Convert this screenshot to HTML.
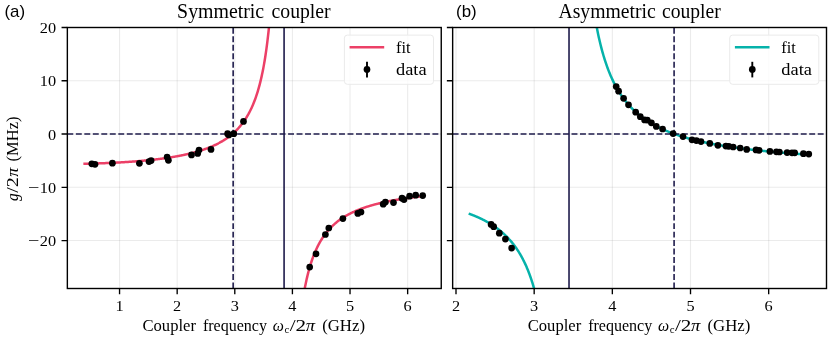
<!DOCTYPE html>
<html><head><meta charset="utf-8"><title>Coupler plots</title>
<style>html,body{margin:0;padding:0;background:#fff;}svg{display:block;}</style></head>
<body>
<svg width="831" height="341" viewBox="0 0 831 341">
<rect width="831" height="341" fill="#fff"/>
<clipPath id="clip0"><rect x="67.35" y="27.5" width="373.9" height="261"/></clipPath>
<path d="M119.55 27.5V288.5M177.17 27.5V288.5M234.79 27.5V288.5M292.41 27.5V288.5M350.03 27.5V288.5M407.65 27.5V288.5" stroke="#808080" stroke-opacity="0.16" stroke-width="1.1" fill="none"/>
<path d="M67.35 27.5H441.25M67.35 80.77H441.25M67.35 134.03H441.25M67.35 187.3H441.25M67.35 240.56H441.25" stroke="#808080" stroke-opacity="0.16" stroke-width="1.1" fill="none"/>
<g clip-path="url(#clip0)">
<path d="M83.36 163.76 L83.86 163.75 L84.35 163.74 L84.85 163.73 L85.34 163.72 L85.84 163.71 L86.33 163.7 L86.83 163.69 L87.32 163.68 L87.82 163.67 L88.32 163.66 L88.81 163.65 L89.31 163.64 L89.8 163.62 L90.3 163.61 L90.79 163.6 L91.29 163.59 L91.78 163.57 L92.28 163.56 L92.77 163.55 L93.27 163.53 L93.76 163.52 L94.26 163.51 L94.75 163.49 L95.25 163.48 L95.74 163.46 L96.24 163.45 L96.73 163.43 L97.23 163.42 L97.72 163.4 L98.22 163.38 L98.71 163.37 L99.21 163.35 L99.7 163.33 L100.2 163.32 L100.69 163.3 L101.19 163.28 L101.68 163.27 L102.18 163.25 L102.67 163.23 L103.17 163.21 L103.66 163.19 L104.16 163.17 L104.65 163.15 L105.15 163.13 L105.64 163.11 L106.14 163.09 L106.63 163.07 L107.13 163.05 L107.62 163.03 L108.12 163.01 L108.61 162.99 L109.11 162.97 L109.6 162.95 L110.1 162.92 L110.59 162.9 L111.09 162.88 L111.58 162.86 L112.08 162.83 L112.57 162.81 L113.07 162.78 L113.56 162.76 L114.06 162.74 L114.55 162.71 L115.05 162.69 L115.54 162.66 L116.04 162.64 L116.53 162.61 L117.03 162.58 L117.52 162.56 L118.02 162.53 L118.51 162.5 L119.01 162.48 L119.5 162.45 L120 162.42 L120.49 162.39 L120.99 162.36 L121.48 162.33 L121.98 162.3 L122.47 162.27 L122.97 162.24 L123.46 162.21 L123.96 162.18 L124.45 162.15 L124.95 162.12 L125.44 162.09 L125.94 162.06 L126.43 162.03 L126.93 161.99 L127.42 161.96 L127.92 161.93 L128.41 161.89 L128.91 161.86 L129.4 161.83 L129.9 161.79 L130.39 161.76 L130.89 161.72 L131.38 161.68 L131.88 161.65 L132.37 161.61 L132.87 161.58 L133.36 161.54 L133.86 161.5 L134.35 161.46 L134.85 161.42 L135.34 161.39 L135.84 161.35 L136.33 161.31 L136.83 161.27 L137.32 161.23 L137.82 161.19 L138.31 161.14 L138.81 161.1 L139.3 161.06 L139.8 161.02 L140.29 160.98 L140.79 160.93 L141.28 160.89 L141.78 160.84 L142.27 160.8 L142.77 160.75 L143.26 160.71 L143.76 160.66 L144.25 160.62 L144.75 160.57 L145.24 160.52 L145.74 160.48 L146.23 160.43 L146.73 160.38 L147.22 160.33 L147.72 160.28 L148.22 160.23 L148.71 160.18 L149.21 160.13 L149.7 160.08 L150.2 160.02 L150.69 159.97 L151.19 159.92 L151.68 159.86 L152.18 159.81 L152.67 159.76 L153.17 159.7 L153.66 159.64 L154.16 159.59 L154.65 159.53 L155.15 159.47 L155.64 159.41 L156.14 159.36 L156.63 159.3 L157.13 159.24 L157.62 159.18 L158.12 159.12 L158.61 159.05 L159.11 158.99 L159.6 158.93 L160.1 158.87 L160.59 158.8 L161.09 158.74 L161.58 158.67 L162.08 158.61 L162.57 158.54 L163.07 158.47 L163.56 158.4 L164.06 158.33 L164.55 158.26 L165.05 158.19 L165.54 158.12 L166.04 158.05 L166.53 157.98 L167.03 157.91 L167.52 157.83 L168.02 157.76 L168.51 157.68 L169.01 157.61 L169.5 157.53 L170 157.45 L170.49 157.37 L170.99 157.29 L171.48 157.21 L171.98 157.13 L172.47 157.05 L172.97 156.97 L173.46 156.89 L173.96 156.8 L174.45 156.72 L174.95 156.63 L175.44 156.54 L175.94 156.46 L176.43 156.37 L176.93 156.28 L177.42 156.19 L177.92 156.09 L178.41 156 L178.91 155.91 L179.4 155.81 L179.9 155.72 L180.39 155.62 L180.89 155.52 L181.38 155.42 L181.88 155.32 L182.37 155.22 L182.87 155.12 L183.36 155.02 L183.86 154.91 L184.35 154.81 L184.85 154.7 L185.34 154.59 L185.84 154.48 L186.33 154.37 L186.83 154.26 L187.32 154.15 L187.82 154.03 L188.31 153.92 L188.81 153.8 L189.3 153.68 L189.8 153.56 L190.29 153.44 L190.79 153.32 L191.28 153.2 L191.78 153.07 L192.27 152.95 L192.77 152.82 L193.26 152.69 L193.76 152.56 L194.25 152.42 L194.75 152.29 L195.24 152.15 L195.74 152.02 L196.23 151.88 L196.73 151.73 L197.22 151.59 L197.72 151.45 L198.21 151.3 L198.71 151.15 L199.2 151 L199.7 150.85 L200.19 150.7 L200.69 150.54 L201.18 150.38 L201.68 150.22 L202.17 150.06 L202.67 149.9 L203.16 149.73 L203.66 149.56 L204.15 149.39 L204.65 149.22 L205.14 149.05 L205.64 148.87 L206.13 148.69 L206.63 148.51 L207.12 148.32 L207.62 148.14 L208.11 147.95 L208.61 147.75 L209.11 147.56 L209.6 147.36 L210.1 147.16 L210.59 146.96 L211.09 146.75 L211.58 146.54 L212.08 146.33 L212.57 146.11 L213.07 145.9 L213.56 145.67 L214.06 145.45 L214.55 145.22 L215.05 144.99 L215.54 144.76 L216.04 144.52 L216.53 144.28 L217.03 144.03 L217.52 143.78 L218.02 143.53 L218.51 143.27 L219.01 143.01 L219.5 142.74 L220 142.47 L220.49 142.2 L220.99 141.92 L221.48 141.64 L221.98 141.35 L222.47 141.06 L222.97 140.76 L223.46 140.46 L223.96 140.15 L224.45 139.84 L224.95 139.52 L225.44 139.2 L225.94 138.87 L226.43 138.53 L226.93 138.19 L227.42 137.84 L227.92 137.49 L228.41 137.13 L228.91 136.77 L229.4 136.39 L229.9 136.01 L230.39 135.63 L230.89 135.23 L231.38 134.83 L231.88 134.42 L232.37 134 L232.87 133.58 L233.36 133.14 L233.86 132.7 L234.35 132.25 L234.85 131.79 L235.34 131.32 L235.84 130.84 L236.33 130.35 L236.83 129.85 L237.32 129.33 L237.82 128.81 L238.31 128.28 L238.81 127.73 L239.3 127.17 L239.8 126.6 L240.29 126.02 L240.79 125.42 L241.28 124.81 L241.78 124.19 L242.27 123.55 L242.77 122.89 L243.26 122.22 L243.76 121.53 L244.25 120.83 L244.75 120.11 L245.24 119.36 L245.74 118.6 L246.23 117.82 L246.73 117.02 L247.22 116.2 L247.72 115.35 L248.21 114.48 L248.71 113.59 L249.2 112.67 L249.7 111.73 L250.19 110.76 L250.69 109.75 L251.18 108.72 L251.68 107.66 L252.17 106.56 L252.67 105.43 L253.16 104.27 L253.66 103.06 L254.15 101.82 L254.65 100.53 L255.14 99.2 L255.64 97.83 L256.13 96.41 L256.63 94.93 L257.12 93.4 L257.62 91.81 L258.11 90.17 L258.61 88.46 L259.1 86.68 L259.6 84.83 L260.09 82.91 L260.59 80.91 L261.08 78.82 L261.58 76.63 L262.07 74.36 L262.57 71.97 L263.06 69.48 L263.56 66.87 L264.05 64.13 L264.55 61.25 L265.04 58.23 L265.54 55.04 L266.03 51.68 L266.53 48.14 L267.02 44.39 L267.52 40.42 L268.01 36.22 L268.51 31.74 L269.01 26.98 L269.5 21.9 L270 16.47 L270.49 10.66 L270.99 4.41 L271.48 -2.32 L271.98 -9.59 L272.47 -17.47 L272.97 -26.03 L273.46 -35.36 L273.96 -45.59 L274.45 -56.84 L274.95 -69.28 L275.44 -83.1 L275.94 -98.54 L276.43 -115.91 L276.93 -135.6 L277.42 -158.1 L277.92 -184.07 L278.41 -214.35 L278.91 -250.15 L279.4 -293.09 L279.9 -345.58 L280.39 -411.18 L280.89 -495.5" stroke="#ec4067" stroke-width="2.5" fill="none" stroke-linejoin="round"/>
<path d="M287.8 793.41 L288.14 741.06 L288.48 696.93 L288.83 659.22 L289.17 626.63 L289.51 598.18 L289.85 573.13 L290.2 550.9 L290.54 531.05 L290.88 513.2 L291.22 497.08 L291.57 482.45 L291.91 469.09 L292.25 456.87 L292.59 445.63 L292.93 435.27 L293.28 425.68 L293.62 416.78 L293.96 408.51 L294.3 400.79 L294.65 393.57 L294.99 386.81 L295.33 380.46 L295.67 374.48 L296.01 368.86 L296.36 363.54 L296.7 358.52 L297.04 353.76 L297.38 349.25 L297.73 344.96 L298.07 340.89 L298.41 337.01 L298.75 333.31 L299.09 329.78 L299.44 326.41 L299.78 323.19 L300.12 320.11 L300.46 317.15 L300.81 314.32 L301.15 311.6 L301.49 308.99 L301.83 306.48 L302.18 304.06 L302.52 301.73 L302.86 299.49 L303.2 297.33 L303.54 295.25 L303.89 293.24 L304.23 291.29 L304.57 289.42 L304.91 287.6 L305.26 285.84 L305.6 284.14 L305.94 282.5 L306.28 280.9 L306.62 279.35 L306.97 277.85 L307.31 276.39 L307.65 274.98 L307.99 273.61 L308.34 272.27 L308.68 270.97 L309.02 269.71 L309.36 268.48 L309.7 267.29 L310.05 266.13 L310.39 264.99 L310.73 263.89 L311.07 262.82 L311.42 261.77 L311.76 260.75 L312.1 259.75 L312.44 258.78 L312.78 257.83 L313.13 256.9 L313.47 255.99 L313.81 255.11 L314.15 254.25 L314.5 253.4 L314.84 252.58 L315.18 251.77 L315.52 250.98 L315.87 250.21 L316.21 249.45 L316.55 248.71 L316.89 247.99 L317.23 247.28 L317.58 246.58 L317.92 245.9 L318.26 245.23 L318.6 244.58 L318.95 243.94 L319.29 243.31 L319.63 242.69 L319.97 242.09 L320.31 241.5 L320.66 240.92 L321 240.35 L321.34 239.79 L321.68 239.24 L322.03 238.7 L322.37 238.17 L322.71 237.64 L323.05 237.13 L323.39 236.63 L323.74 236.14 L324.08 235.65 L324.42 235.17 L324.76 234.7 L325.11 234.24 L325.45 233.79 L325.79 233.34 L326.13 232.91 L326.48 232.47 L326.82 232.05 L327.16 231.63 L327.5 231.22 L327.84 230.82 L328.19 230.42 L328.53 230.03 L328.87 229.64 L329.21 229.26 L329.56 228.89 L329.9 228.52 L330.24 228.15 L330.58 227.8 L330.92 227.44 L331.27 227.1 L331.61 226.75 L331.95 226.42 L332.29 226.08 L332.64 225.76 L332.98 225.43 L333.32 225.11 L333.66 224.8 L334 224.49 L334.35 224.19 L334.69 223.88 L335.03 223.59 L335.37 223.29 L335.72 223 L336.06 222.72 L336.4 222.44 L336.74 222.16 L337.08 221.88 L337.43 221.61 L337.77 221.35 L338.11 221.08 L338.45 220.82 L338.8 220.56 L339.14 220.31 L339.48 220.06 L339.82 219.81 L340.17 219.57 L340.51 219.33 L340.85 219.09 L341.19 218.85 L341.53 218.62 L341.88 218.39 L342.22 218.16 L342.56 217.94 L342.9 217.71 L343.25 217.49 L343.59 217.28 L343.93 217.06 L344.27 216.85 L344.61 216.64 L344.96 216.43 L345.3 216.23 L345.64 216.03 L345.98 215.83 L346.33 215.63 L346.67 215.43 L347.01 215.24 L347.35 215.05 L347.69 214.86 L348.04 214.67 L348.38 214.49 L348.72 214.3 L349.06 214.12 L349.41 213.94 L349.75 213.76 L350.09 213.59 L350.43 213.41 L350.78 213.24 L351.12 213.07 L351.46 212.9 L351.8 212.74 L352.14 212.57 L352.49 212.41 L352.83 212.25 L353.17 212.09 L353.51 211.93 L353.86 211.77 L354.2 211.62 L354.54 211.46 L354.88 211.31 L355.22 211.16 L355.57 211.01 L355.91 210.86 L356.25 210.71 L356.59 210.57 L356.94 210.43 L357.28 210.28 L357.62 210.14 L357.96 210 L358.3 209.86 L358.65 209.73 L358.99 209.59 L359.33 209.46 L359.67 209.32 L360.02 209.19 L360.36 209.06 L360.7 208.93 L361.04 208.8 L361.39 208.68 L361.73 208.55 L362.07 208.42 L362.41 208.3 L362.75 208.18 L363.1 208.06 L363.44 207.94 L363.78 207.82 L364.12 207.7 L364.47 207.58 L364.81 207.46 L365.15 207.35 L365.49 207.23 L365.83 207.12 L366.18 207.01 L366.52 206.9 L366.86 206.79 L367.2 206.68 L367.55 206.57 L367.89 206.46 L368.23 206.35 L368.57 206.25 L368.91 206.14 L369.26 206.04 L369.6 205.93 L369.94 205.83 L370.28 205.73 L370.63 205.63 L370.97 205.53 L371.31 205.43 L371.65 205.33 L371.99 205.23 L372.34 205.13 L372.68 205.04 L373.02 204.94 L373.36 204.85 L373.71 204.75 L374.05 204.66 L374.39 204.57 L374.73 204.48 L375.08 204.38 L375.42 204.29 L375.76 204.2 L376.1 204.12 L376.44 204.03 L376.79 203.94 L377.13 203.85 L377.47 203.77 L377.81 203.68 L378.16 203.59 L378.5 203.51 L378.84 203.43 L379.18 203.34 L379.52 203.26 L379.87 203.18 L380.21 203.1 L380.55 203.02 L380.89 202.94 L381.24 202.86 L381.58 202.78 L381.92 202.7 L382.26 202.62 L382.6 202.54 L382.95 202.47 L383.29 202.39 L383.63 202.31 L383.97 202.24 L384.32 202.16 L384.66 202.09 L385 202.02 L385.34 201.94 L385.69 201.87 L386.03 201.8 L386.37 201.73 L386.71 201.66 L387.05 201.59 L387.4 201.52 L387.74 201.45 L388.08 201.38 L388.42 201.31 L388.77 201.24 L389.11 201.17 L389.45 201.1 L389.79 201.04 L390.13 200.97 L390.48 200.9 L390.82 200.84 L391.16 200.77 L391.5 200.71 L391.85 200.64 L392.19 200.58 L392.53 200.52 L392.87 200.45 L393.21 200.39 L393.56 200.33 L393.9 200.27 L394.24 200.21 L394.58 200.14 L394.93 200.08 L395.27 200.02 L395.61 199.96 L395.95 199.9 L396.29 199.85 L396.64 199.79 L396.98 199.73 L397.32 199.67 L397.66 199.61 L398.01 199.55 L398.35 199.5 L398.69 199.44 L399.03 199.39 L399.38 199.33 L399.72 199.27 L400.06 199.22 L400.4 199.16 L400.74 199.11 L401.09 199.05 L401.43 199 L401.77 198.95 L402.11 198.89 L402.46 198.84 L402.8 198.79 L403.14 198.74 L403.48 198.68 L403.82 198.63 L404.17 198.58 L404.51 198.53 L404.85 198.48 L405.19 198.43 L405.54 198.38 L405.88 198.33 L406.22 198.28 L406.56 198.23 L406.9 198.18 L407.25 198.13 L407.59 198.08 L407.93 198.03 L408.27 197.99 L408.62 197.94 L408.96 197.89 L409.3 197.84 L409.64 197.8 L409.99 197.75 L410.33 197.71 L410.67 197.66 L411.01 197.61 L411.35 197.57 L411.7 197.52 L412.04 197.48 L412.38 197.43 L412.72 197.39 L413.07 197.34 L413.41 197.3 L413.75 197.26 L414.09 197.21 L414.43 197.17 L414.78 197.13 L415.12 197.08 L415.46 197.04 L415.8 197 L416.15 196.96 L416.49 196.91 L416.83 196.87 L417.17 196.83 L417.51 196.79 L417.86 196.75 L418.2 196.71 L418.54 196.67 L418.88 196.63 L419.23 196.59 L419.57 196.55 L419.91 196.51 L420.25 196.47 L420.6 196.43 L420.94 196.39 L421.28 196.35 L421.62 196.31 L421.96 196.27 L422.31 196.23 L422.65 196.2 L422.99 196.16 L423.33 196.12 L423.68 196.08 L424.02 196.05 L424.36 196.01" stroke="#ec4067" stroke-width="2.5" fill="none" stroke-linejoin="round"/>
<path d="M284.08 288.5V27.5" stroke="#1e1b4b" stroke-width="1.6" fill="none"/>
<path d="M233.15 288.5V27.5" stroke="#1e1b4b" stroke-width="1.6" stroke-dasharray="5.93 2.56" fill="none"/>
<path d="M67.35 134.03H441.25" stroke="#1e1b4b" stroke-width="1.6" stroke-dasharray="5.93 2.56" fill="none"/>
<circle cx="91.8" cy="163.8" r="3.35" fill="#000"/>
<circle cx="95" cy="164.3" r="3.35" fill="#000"/>
<circle cx="112.4" cy="163.2" r="3.35" fill="#000"/>
<circle cx="139.4" cy="163.3" r="3.35" fill="#000"/>
<circle cx="149" cy="161.6" r="3.35" fill="#000"/>
<circle cx="151.1" cy="160.6" r="3.35" fill="#000"/>
<circle cx="167.1" cy="157.1" r="3.35" fill="#000"/>
<circle cx="168.4" cy="160.3" r="3.35" fill="#000"/>
<circle cx="191.5" cy="154.9" r="3.35" fill="#000"/>
<circle cx="197.7" cy="153.4" r="3.35" fill="#000"/>
<circle cx="199" cy="150" r="3.35" fill="#000"/>
<circle cx="211" cy="149.4" r="3.35" fill="#000"/>
<circle cx="227.6" cy="133.7" r="3.35" fill="#000"/>
<circle cx="228.8" cy="134.9" r="3.35" fill="#000"/>
<circle cx="233.8" cy="133.7" r="3.35" fill="#000"/>
<circle cx="243.5" cy="121.4" r="3.35" fill="#000"/>
<circle cx="309.7" cy="267.1" r="3.35" fill="#000"/>
<circle cx="316" cy="253.8" r="3.35" fill="#000"/>
<circle cx="325.4" cy="234.5" r="3.35" fill="#000"/>
<circle cx="328.8" cy="228" r="3.35" fill="#000"/>
<circle cx="342.9" cy="218.6" r="3.35" fill="#000"/>
<circle cx="357.8" cy="213.4" r="3.35" fill="#000"/>
<circle cx="361" cy="212" r="3.35" fill="#000"/>
<circle cx="383.2" cy="204.2" r="3.35" fill="#000"/>
<circle cx="385.4" cy="202" r="3.35" fill="#000"/>
<circle cx="393.5" cy="202.6" r="3.35" fill="#000"/>
<circle cx="402" cy="198.2" r="3.35" fill="#000"/>
<circle cx="404" cy="199.6" r="3.35" fill="#000"/>
<circle cx="409.6" cy="196.2" r="3.35" fill="#000"/>
<circle cx="415.7" cy="195.2" r="3.35" fill="#000"/>
<circle cx="422.7" cy="195.6" r="3.35" fill="#000"/>
</g>
<path d="M119.55 288.5v5.8M177.17 288.5v5.8M234.79 288.5v5.8M292.41 288.5v5.8M350.03 288.5v5.8M407.65 288.5v5.8M67.35 27.5h-5.8M67.35 80.77h-5.8M67.35 134.03h-5.8M67.35 187.3h-5.8M67.35 240.56h-5.8" stroke="#000" stroke-width="1.35" fill="none"/>
<rect x="67.35" y="27.5" width="373.9" height="261" fill="none" stroke="#000" stroke-width="1.4"/>
<text x="119.55" y="311.2" font-family='"Liberation Serif", serif' font-size="15.5" text-anchor="middle" textLength="8.15" lengthAdjust="spacingAndGlyphs" >1</text>
<text x="177.17" y="311.2" font-family='"Liberation Serif", serif' font-size="15.5" text-anchor="middle" textLength="8.15" lengthAdjust="spacingAndGlyphs" >2</text>
<text x="234.79" y="311.2" font-family='"Liberation Serif", serif' font-size="15.5" text-anchor="middle" textLength="8.15" lengthAdjust="spacingAndGlyphs" >3</text>
<text x="292.41" y="311.2" font-family='"Liberation Serif", serif' font-size="15.5" text-anchor="middle" textLength="8.15" lengthAdjust="spacingAndGlyphs" >4</text>
<text x="350.03" y="311.2" font-family='"Liberation Serif", serif' font-size="15.5" text-anchor="middle" textLength="8.15" lengthAdjust="spacingAndGlyphs" >5</text>
<text x="407.65" y="311.2" font-family='"Liberation Serif", serif' font-size="15.5" text-anchor="middle" textLength="8.15" lengthAdjust="spacingAndGlyphs" >6</text>
<text font-family='"Liberation Serif", serif' font-size="20.5"><tspan x="177.1" y="18.05" textLength="87.1" lengthAdjust="spacingAndGlyphs">Symmetric</tspan> <tspan x="271.5" y="18.05" textLength="59.2" lengthAdjust="spacingAndGlyphs">coupler</tspan></text>
<text font-family='"Liberation Serif", serif' font-size="16"><tspan x="142.5" y="330.6" textLength="53.4" lengthAdjust="spacingAndGlyphs">Coupler</tspan> <tspan x="202.9" y="330.6" textLength="64" lengthAdjust="spacingAndGlyphs">frequency</tspan> <tspan x="272.7" y="330.6" textLength="11.1" lengthAdjust="spacingAndGlyphs" font-style="italic">ω</tspan><tspan x="284.4" y="332.9" textLength="4.8" lengthAdjust="spacingAndGlyphs" font-size="11.2">c</tspan><tspan x="289.7" y="330.6" textLength="16.5" lengthAdjust="spacingAndGlyphs">/2</tspan><tspan x="305.7" y="330.6" textLength="9.3" lengthAdjust="spacingAndGlyphs" font-style="italic">π</tspan> <tspan x="322.2" y="330.6" textLength="42.8" lengthAdjust="spacingAndGlyphs">(GHz)</tspan></text>
<rect x="344.4" y="35.1" width="89.1" height="49.2" rx="3" ry="3" fill="#fff" fill-opacity="0.8" stroke="#eaeaea" stroke-width="1"/>
<path d="M349.6 47.3H384.2" stroke="#ec4067" stroke-width="2.5" fill="none"/>
<path d="M367 61.8V77.4" stroke="#000" stroke-width="1.9" fill="none"/>
<circle cx="367" cy="69.4" r="3.35" fill="#000"/>
<text x="396" y="52.8" font-family='"Liberation Serif", serif' font-size="16" text-anchor="start" textLength="14.5" lengthAdjust="spacingAndGlyphs" >fit</text>
<text x="396" y="74.6" font-family='"Liberation Serif", serif' font-size="16" text-anchor="start" textLength="30.6" lengthAdjust="spacingAndGlyphs" >data</text>
<clipPath id="clip1"><rect x="452.65" y="27.5" width="373.85" height="261"/></clipPath>
<path d="M456 27.5V288.5M534.17 27.5V288.5M612.34 27.5V288.5M690.51 27.5V288.5M768.68 27.5V288.5" stroke="#808080" stroke-opacity="0.16" stroke-width="1.1" fill="none"/>
<path d="M452.65 27.5H826.5M452.65 80.77H826.5M452.65 134.03H826.5M452.65 187.3H826.5M452.65 240.56H826.5" stroke="#808080" stroke-opacity="0.16" stroke-width="1.1" fill="none"/>
<g clip-path="url(#clip1)">
<path d="M468.66 213.57 L468.89 213.65 L469.11 213.73 L469.33 213.81 L469.56 213.89 L469.78 213.97 L470 214.06 L470.22 214.14 L470.45 214.22 L470.67 214.31 L470.89 214.39 L471.12 214.47 L471.34 214.56 L471.56 214.65 L471.78 214.73 L472.01 214.82 L472.23 214.9 L472.45 214.99 L472.68 215.08 L472.9 215.17 L473.12 215.26 L473.35 215.34 L473.57 215.43 L473.79 215.52 L474.01 215.61 L474.24 215.7 L474.46 215.8 L474.68 215.89 L474.91 215.98 L475.13 216.07 L475.35 216.17 L475.58 216.26 L475.8 216.35 L476.02 216.45 L476.24 216.54 L476.47 216.64 L476.69 216.73 L476.91 216.83 L477.14 216.93 L477.36 217.03 L477.58 217.12 L477.8 217.22 L478.03 217.32 L478.25 217.42 L478.47 217.52 L478.7 217.62 L478.92 217.72 L479.14 217.83 L479.37 217.93 L479.59 218.03 L479.81 218.14 L480.03 218.24 L480.26 218.34 L480.48 218.45 L480.7 218.56 L480.93 218.66 L481.15 218.77 L481.37 218.88 L481.59 218.98 L481.82 219.09 L482.04 219.2 L482.26 219.31 L482.49 219.42 L482.71 219.53 L482.93 219.65 L483.16 219.76 L483.38 219.87 L483.6 219.99 L483.82 220.1 L484.05 220.22 L484.27 220.33 L484.49 220.45 L484.72 220.56 L484.94 220.68 L485.16 220.8 L485.38 220.92 L485.61 221.04 L485.83 221.16 L486.05 221.28 L486.28 221.4 L486.5 221.53 L486.72 221.65 L486.95 221.77 L487.17 221.9 L487.39 222.02 L487.61 222.15 L487.84 222.28 L488.06 222.4 L488.28 222.53 L488.51 222.66 L488.73 222.79 L488.95 222.92 L489.18 223.05 L489.4 223.19 L489.62 223.32 L489.84 223.45 L490.07 223.59 L490.29 223.72 L490.51 223.86 L490.74 224 L490.96 224.14 L491.18 224.28 L491.4 224.42 L491.63 224.56 L491.85 224.7 L492.07 224.84 L492.3 224.98 L492.52 225.13 L492.74 225.27 L492.97 225.42 L493.19 225.57 L493.41 225.71 L493.63 225.86 L493.86 226.01 L494.08 226.16 L494.3 226.32 L494.53 226.47 L494.75 226.62 L494.97 226.78 L495.19 226.93 L495.42 227.09 L495.64 227.25 L495.86 227.41 L496.09 227.57 L496.31 227.73 L496.53 227.89 L496.76 228.05 L496.98 228.22 L497.2 228.38 L497.42 228.55 L497.65 228.72 L497.87 228.88 L498.09 229.05 L498.32 229.22 L498.54 229.4 L498.76 229.57 L498.98 229.74 L499.21 229.92 L499.43 230.1 L499.65 230.27 L499.88 230.45 L500.1 230.63 L500.32 230.82 L500.55 231 L500.77 231.18 L500.99 231.37 L501.21 231.56 L501.44 231.74 L501.66 231.93 L501.88 232.13 L502.11 232.32 L502.33 232.51 L502.55 232.71 L502.78 232.9 L503 233.1 L503.22 233.3 L503.44 233.5 L503.67 233.7 L503.89 233.91 L504.11 234.11 L504.34 234.32 L504.56 234.53 L504.78 234.74 L505 234.95 L505.23 235.16 L505.45 235.38 L505.67 235.59 L505.9 235.81 L506.12 236.03 L506.34 236.25 L506.57 236.47 L506.79 236.7 L507.01 236.93 L507.23 237.15 L507.46 237.38 L507.68 237.62 L507.9 237.85 L508.13 238.08 L508.35 238.32 L508.57 238.56 L508.79 238.8 L509.02 239.04 L509.24 239.29 L509.46 239.54 L509.69 239.79 L509.91 240.04 L510.13 240.29 L510.36 240.54 L510.58 240.8 L510.8 241.06 L511.02 241.32 L511.25 241.58 L511.47 241.85 L511.69 242.12 L511.92 242.39 L512.14 242.66 L512.36 242.94 L512.58 243.21 L512.81 243.49 L513.03 243.77 L513.25 244.06 L513.48 244.35 L513.7 244.63 L513.92 244.93 L514.15 245.22 L514.37 245.52 L514.59 245.82 L514.81 246.12 L515.04 246.42 L515.26 246.73 L515.48 247.04 L515.71 247.36 L515.93 247.67 L516.15 247.99 L516.38 248.31 L516.6 248.64 L516.82 248.96 L517.04 249.3 L517.27 249.63 L517.49 249.97 L517.71 250.31 L517.94 250.65 L518.16 251 L518.38 251.35 L518.6 251.7 L518.83 252.06 L519.05 252.42 L519.27 252.78 L519.5 253.15 L519.72 253.52 L519.94 253.89 L520.17 254.27 L520.39 254.65 L520.61 255.04 L520.83 255.43 L521.06 255.82 L521.28 256.22 L521.5 256.62 L521.73 257.02 L521.95 257.43 L522.17 257.85 L522.39 258.26 L522.62 258.69 L522.84 259.11 L523.06 259.55 L523.29 259.98 L523.51 260.42 L523.73 260.87 L523.96 261.32 L524.18 261.77 L524.4 262.23 L524.62 262.7 L524.85 263.17 L525.07 263.64 L525.29 264.12 L525.52 264.61 L525.74 265.1 L525.96 265.6 L526.18 266.1 L526.41 266.61 L526.63 267.12 L526.85 267.64 L527.08 268.17 L527.3 268.7 L527.52 269.24 L527.75 269.78 L527.97 270.33 L528.19 270.89 L528.41 271.46 L528.64 272.03 L528.86 272.61 L529.08 273.19 L529.31 273.78 L529.53 274.38 L529.75 274.99 L529.98 275.61 L530.2 276.23 L530.42 276.86 L530.64 277.5 L530.87 278.15 L531.09 278.8 L531.31 279.46 L531.54 280.14 L531.76 280.82 L531.98 281.51 L532.2 282.21 L532.43 282.92 L532.65 283.64 L532.87 284.36 L533.1 285.1 L533.32 285.85 L533.54 286.61 L533.77 287.38 L533.99 288.16 L534.21 288.95 L534.43 289.75 L534.66 290.57 L534.88 291.39 L535.1 292.23 L535.33 293.08 L535.55 293.95 L535.77 294.82 L535.99 295.71 L536.22 296.61 L536.44 297.53 L536.66 298.46 L536.89 299.41 L537.11 300.37 L537.33 301.34 L537.56 302.33 L537.78 303.34 L538 304.36 L538.22 305.4 L538.45 306.45 L538.67 307.53 L538.89 308.62 L539.12 309.73 L539.34 310.86 L539.56 312.01 L539.78 313.17 L540.01 314.36 L540.23 315.57 L540.45 316.8 L540.68 318.05 L540.9 319.32 L541.12 320.62 L541.35 321.94 L541.57 323.29 L541.79 324.66 L542.01 326.05 L542.24 327.48 L542.46 328.93 L542.68 330.41 L542.91 331.91 L543.13 333.45 L543.35 335.02 L543.58 336.62 L543.8 338.25 L544.02 339.91 L544.24 341.61 L544.47 343.35 L544.69 345.12 L544.91 346.93 L545.14 348.78 L545.36 350.67 L545.58 352.6 L545.8 354.57 L546.03 356.59 L546.25 358.66 L546.47 360.77 L546.7 362.94 L546.92 365.15 L547.14 367.42 L547.37 369.74 L547.59 372.12 L547.81 374.56 L548.03 377.06 L548.26 379.62 L548.48 382.25 L548.7 384.95 L548.93 387.72 L549.15 390.56 L549.37 393.49 L549.59 396.49 L549.82 399.58 L550.04 402.75 L550.26 406.02 L550.49 409.38 L550.71 412.84 L550.93 416.4 L551.16 420.08 L551.38 423.86 L551.6 427.77 L551.82 431.8 L552.05 435.97 L552.27 440.27 L552.49 444.71 L552.72 449.31 L552.94 454.07 L553.16 458.99 L553.38 464.1 L553.61 469.39 L553.83 474.87 L554.05 480.57 L554.28 486.49 L554.5 492.64 L554.72 499.04 L554.95 505.71 L555.17 512.66 L555.39 519.9 L555.61 527.46 L555.84 535.37 L556.06 543.63 L556.28 552.29 L556.51 561.36 L556.73 570.88 L556.95 580.88 L557.18 591.4 L557.4 602.48 L557.62 614.17" stroke="#05b2aa" stroke-width="2.5" fill="none" stroke-linejoin="round"/>
<path d="M573.25 -735.87 L573.85 -629.93 L574.44 -546.09 L575.04 -478.09 L575.63 -421.83 L576.22 -374.51 L576.82 -334.16 L577.41 -299.34 L578 -268.99 L578.6 -242.29 L579.19 -218.64 L579.78 -197.53 L580.38 -178.58 L580.97 -161.47 L581.57 -145.94 L582.16 -131.79 L582.75 -118.84 L583.35 -106.95 L583.94 -95.98 L584.53 -85.84 L585.13 -76.44 L585.72 -67.7 L586.31 -59.54 L586.91 -51.92 L587.5 -44.78 L588.1 -38.09 L588.69 -31.79 L589.28 -25.85 L589.88 -20.25 L590.47 -14.96 L591.06 -9.95 L591.66 -5.19 L592.25 -0.68 L592.84 3.61 L593.44 7.69 L594.03 11.58 L594.63 15.29 L595.22 18.83 L595.81 22.22 L596.41 25.47 L597 28.57 L597.59 31.55 L598.19 34.41 L598.78 37.15 L599.37 39.79 L599.97 42.33 L600.56 44.77 L601.16 47.12 L601.75 49.39 L602.34 51.58 L602.94 53.69 L603.53 55.73 L604.12 57.7 L604.72 59.6 L605.31 61.44 L605.9 63.23 L606.5 64.95 L607.09 66.63 L607.69 68.25 L608.28 69.82 L608.87 71.35 L609.47 72.83 L610.06 74.27 L610.65 75.67 L611.25 77.03 L611.84 78.35 L612.43 79.64 L613.03 80.89 L613.62 82.1 L614.21 83.29 L614.81 84.44 L615.4 85.57 L616 86.66 L616.59 87.73 L617.18 88.78 L617.78 89.79 L618.37 90.79 L618.96 91.76 L619.56 92.7 L620.15 93.63 L620.74 94.53 L621.34 95.41 L621.93 96.28 L622.53 97.12 L623.12 97.95 L623.71 98.75 L624.31 99.54 L624.9 100.32 L625.49 101.07 L626.09 101.81 L626.68 102.54 L627.27 103.25 L627.87 103.95 L628.46 104.63 L629.06 105.3 L629.65 105.95 L630.24 106.59 L630.84 107.23 L631.43 107.84 L632.02 108.45 L632.62 109.05 L633.21 109.63 L633.8 110.2 L634.4 110.77 L634.99 111.32 L635.59 111.86 L636.18 112.4 L636.77 112.92 L637.37 113.43 L637.96 113.94 L638.55 114.44 L639.15 114.92 L639.74 115.4 L640.33 115.88 L640.93 116.34 L641.52 116.8 L642.12 117.25 L642.71 117.69 L643.3 118.12 L643.9 118.55 L644.49 118.97 L645.08 119.39 L645.68 119.79 L646.27 120.2 L646.86 120.59 L647.46 120.98 L648.05 121.36 L648.64 121.74 L649.24 122.11 L649.83 122.48 L650.43 122.84 L651.02 123.2 L651.61 123.55 L652.21 123.89 L652.8 124.23 L653.39 124.57 L653.99 124.9 L654.58 125.23 L655.17 125.55 L655.77 125.86 L656.36 126.18 L656.96 126.49 L657.55 126.79 L658.14 127.09 L658.74 127.39 L659.33 127.68 L659.92 127.97 L660.52 128.25 L661.11 128.53 L661.7 128.81 L662.3 129.08 L662.89 129.35 L663.49 129.62 L664.08 129.88 L664.67 130.14 L665.27 130.4 L665.86 130.65 L666.45 130.91 L667.05 131.15 L667.64 131.4 L668.23 131.64 L668.83 131.88 L669.42 132.11 L670.02 132.34 L670.61 132.57 L671.2 132.8 L671.8 133.03 L672.39 133.25 L672.98 133.47 L673.58 133.68 L674.17 133.9 L674.76 134.11 L675.36 134.32 L675.95 134.53 L676.55 134.73 L677.14 134.93 L677.73 135.13 L678.33 135.33 L678.92 135.53 L679.51 135.72 L680.11 135.91 L680.7 136.1 L681.29 136.29 L681.89 136.47 L682.48 136.66 L683.08 136.84 L683.67 137.02 L684.26 137.2 L684.86 137.37 L685.45 137.55 L686.04 137.72 L686.64 137.89 L687.23 138.06 L687.82 138.22 L688.42 138.39 L689.01 138.55 L689.6 138.71 L690.2 138.87 L690.79 139.03 L691.39 139.19 L691.98 139.34 L692.57 139.5 L693.17 139.65 L693.76 139.8 L694.35 139.95 L694.95 140.1 L695.54 140.25 L696.13 140.39 L696.73 140.53 L697.32 140.68 L697.92 140.82 L698.51 140.96 L699.1 141.1 L699.7 141.23 L700.29 141.37 L700.88 141.5 L701.48 141.64 L702.07 141.77 L702.66 141.9 L703.26 142.03 L703.85 142.16 L704.45 142.29 L705.04 142.41 L705.63 142.54 L706.23 142.66 L706.82 142.78 L707.41 142.9 L708.01 143.03 L708.6 143.15 L709.19 143.26 L709.79 143.38 L710.38 143.5 L710.98 143.61 L711.57 143.73 L712.16 143.84 L712.76 143.95 L713.35 144.07 L713.94 144.18 L714.54 144.29 L715.13 144.39 L715.72 144.5 L716.32 144.61 L716.91 144.72 L717.51 144.82 L718.1 144.93 L718.69 145.03 L719.29 145.13 L719.88 145.23 L720.47 145.33 L721.07 145.43 L721.66 145.53 L722.25 145.63 L722.85 145.73 L723.44 145.83 L724.03 145.92 L724.63 146.02 L725.22 146.11 L725.82 146.21 L726.41 146.3 L727 146.39 L727.6 146.48 L728.19 146.58 L728.78 146.67 L729.38 146.76 L729.97 146.84 L730.56 146.93 L731.16 147.02 L731.75 147.11 L732.35 147.19 L732.94 147.28 L733.53 147.36 L734.13 147.45 L734.72 147.53 L735.31 147.62 L735.91 147.7 L736.5 147.78 L737.09 147.86 L737.69 147.94 L738.28 148.02 L738.88 148.1 L739.47 148.18 L740.06 148.26 L740.66 148.34 L741.25 148.41 L741.84 148.49 L742.44 148.57 L743.03 148.64 L743.62 148.72 L744.22 148.79 L744.81 148.87 L745.41 148.94 L746 149.01 L746.59 149.08 L747.19 149.16 L747.78 149.23 L748.37 149.3 L748.97 149.37 L749.56 149.44 L750.15 149.51 L750.75 149.58 L751.34 149.65 L751.94 149.71 L752.53 149.78 L753.12 149.85 L753.72 149.92 L754.31 149.98 L754.9 150.05 L755.5 150.11 L756.09 150.18 L756.68 150.24 L757.28 150.31 L757.87 150.37 L758.47 150.43 L759.06 150.5 L759.65 150.56 L760.25 150.62 L760.84 150.68 L761.43 150.74 L762.03 150.8 L762.62 150.86 L763.21 150.92 L763.81 150.98 L764.4 151.04 L764.99 151.1 L765.59 151.16 L766.18 151.22 L766.78 151.28 L767.37 151.33 L767.96 151.39 L768.56 151.45 L769.15 151.5 L769.74 151.56 L770.34 151.61 L770.93 151.67 L771.52 151.73 L772.12 151.78 L772.71 151.83 L773.31 151.89 L773.9 151.94 L774.49 151.99 L775.09 152.05 L775.68 152.1 L776.27 152.15 L776.87 152.2 L777.46 152.26 L778.05 152.31 L778.65 152.36 L779.24 152.41 L779.84 152.46 L780.43 152.51 L781.02 152.56 L781.62 152.61 L782.21 152.66 L782.8 152.71 L783.4 152.76 L783.99 152.8 L784.58 152.85 L785.18 152.9 L785.77 152.95 L786.37 152.99 L786.96 153.04 L787.55 153.09 L788.15 153.13 L788.74 153.18 L789.33 153.23 L789.93 153.27 L790.52 153.32 L791.11 153.36 L791.71 153.41 L792.3 153.45 L792.9 153.5 L793.49 153.54 L794.08 153.58 L794.68 153.63 L795.27 153.67 L795.86 153.71 L796.46 153.76 L797.05 153.8 L797.64 153.84 L798.24 153.89 L798.83 153.93 L799.42 153.97 L800.02 154.01 L800.61 154.05 L801.21 154.09 L801.8 154.13 L802.39 154.17 L802.99 154.21 L803.58 154.25 L804.17 154.29 L804.77 154.33 L805.36 154.37 L805.95 154.41 L806.55 154.45 L807.14 154.49 L807.74 154.53 L808.33 154.57 L808.92 154.61 L809.52 154.64 L810.11 154.68" stroke="#05b2aa" stroke-width="2.5" fill="none" stroke-linejoin="round"/>
<path d="M569.02 288.5V27.5" stroke="#1e1b4b" stroke-width="1.6" fill="none"/>
<path d="M674.09 288.5V27.5" stroke="#1e1b4b" stroke-width="1.6" stroke-dasharray="5.93 2.56" fill="none"/>
<path d="M452.65 134.03H826.5" stroke="#1e1b4b" stroke-width="1.6" stroke-dasharray="5.93 2.56" fill="none"/>
<circle cx="491.1" cy="224.4" r="3.35" fill="#000"/>
<circle cx="493.7" cy="226.7" r="3.35" fill="#000"/>
<circle cx="499.3" cy="233.2" r="3.35" fill="#000"/>
<circle cx="505.4" cy="239.05" r="3.35" fill="#000"/>
<circle cx="511.6" cy="248.1" r="3.35" fill="#000"/>
<circle cx="616.2" cy="86.6" r="3.35" fill="#000"/>
<circle cx="618.6" cy="91.2" r="3.35" fill="#000"/>
<circle cx="623.6" cy="98.3" r="3.35" fill="#000"/>
<circle cx="628.5" cy="104.8" r="3.35" fill="#000"/>
<circle cx="635.7" cy="112.2" r="3.35" fill="#000"/>
<circle cx="640.3" cy="116.7" r="3.35" fill="#000"/>
<circle cx="644.6" cy="119.9" r="3.35" fill="#000"/>
<circle cx="647.3" cy="120.1" r="3.35" fill="#000"/>
<circle cx="651.4" cy="122.8" r="3.35" fill="#000"/>
<circle cx="656.3" cy="126.4" r="3.35" fill="#000"/>
<circle cx="662.6" cy="129" r="3.35" fill="#000"/>
<circle cx="673.1" cy="133.6" r="3.35" fill="#000"/>
<circle cx="683" cy="136.6" r="3.35" fill="#000"/>
<circle cx="692" cy="139.8" r="3.35" fill="#000"/>
<circle cx="696.4" cy="140.6" r="3.35" fill="#000"/>
<circle cx="701" cy="141.6" r="3.35" fill="#000"/>
<circle cx="709.8" cy="143.4" r="3.35" fill="#000"/>
<circle cx="717.9" cy="145.3" r="3.35" fill="#000"/>
<circle cx="725.9" cy="146.1" r="3.35" fill="#000"/>
<circle cx="728.8" cy="146.3" r="3.35" fill="#000"/>
<circle cx="733.2" cy="147" r="3.35" fill="#000"/>
<circle cx="740.2" cy="148" r="3.35" fill="#000"/>
<circle cx="746.7" cy="149.4" r="3.35" fill="#000"/>
<circle cx="756" cy="149.9" r="3.35" fill="#000"/>
<circle cx="759.1" cy="150.3" r="3.35" fill="#000"/>
<circle cx="769.9" cy="151.4" r="3.35" fill="#000"/>
<circle cx="776.4" cy="151.8" r="3.35" fill="#000"/>
<circle cx="779.4" cy="152" r="3.35" fill="#000"/>
<circle cx="787.1" cy="152.6" r="3.35" fill="#000"/>
<circle cx="792" cy="152.8" r="3.35" fill="#000"/>
<circle cx="794.7" cy="152.8" r="3.35" fill="#000"/>
<circle cx="803.4" cy="153.7" r="3.35" fill="#000"/>
<circle cx="808.8" cy="154.1" r="3.35" fill="#000"/>
</g>
<path d="M456 288.5v5.8M534.17 288.5v5.8M612.34 288.5v5.8M690.51 288.5v5.8M768.68 288.5v5.8M452.65 27.5h-5.8M452.65 80.77h-5.8M452.65 134.03h-5.8M452.65 187.3h-5.8M452.65 240.56h-5.8" stroke="#000" stroke-width="1.35" fill="none"/>
<rect x="452.65" y="27.5" width="373.85" height="261" fill="none" stroke="#000" stroke-width="1.4"/>
<text x="456" y="311.2" font-family='"Liberation Serif", serif' font-size="15.5" text-anchor="middle" textLength="8.15" lengthAdjust="spacingAndGlyphs" >2</text>
<text x="534.17" y="311.2" font-family='"Liberation Serif", serif' font-size="15.5" text-anchor="middle" textLength="8.15" lengthAdjust="spacingAndGlyphs" >3</text>
<text x="612.34" y="311.2" font-family='"Liberation Serif", serif' font-size="15.5" text-anchor="middle" textLength="8.15" lengthAdjust="spacingAndGlyphs" >4</text>
<text x="690.51" y="311.2" font-family='"Liberation Serif", serif' font-size="15.5" text-anchor="middle" textLength="8.15" lengthAdjust="spacingAndGlyphs" >5</text>
<text x="768.68" y="311.2" font-family='"Liberation Serif", serif' font-size="15.5" text-anchor="middle" textLength="8.15" lengthAdjust="spacingAndGlyphs" >6</text>
<text font-family='"Liberation Serif", serif' font-size="20.5"><tspan x="558.5" y="18.05" textLength="97.3" lengthAdjust="spacingAndGlyphs">Asymmetric</tspan> <tspan x="662" y="18.05" textLength="58.8" lengthAdjust="spacingAndGlyphs">coupler</tspan></text>
<text font-family='"Liberation Serif", serif' font-size="16"><tspan x="527.78" y="330.6" textLength="53.4" lengthAdjust="spacingAndGlyphs">Coupler</tspan> <tspan x="588.18" y="330.6" textLength="64" lengthAdjust="spacingAndGlyphs">frequency</tspan> <tspan x="657.98" y="330.6" textLength="11.1" lengthAdjust="spacingAndGlyphs" font-style="italic">ω</tspan><tspan x="669.68" y="332.9" textLength="4.8" lengthAdjust="spacingAndGlyphs" font-size="11.2">c</tspan><tspan x="674.98" y="330.6" textLength="16.5" lengthAdjust="spacingAndGlyphs">/2</tspan><tspan x="690.98" y="330.6" textLength="9.3" lengthAdjust="spacingAndGlyphs" font-style="italic">π</tspan> <tspan x="707.48" y="330.6" textLength="42.8" lengthAdjust="spacingAndGlyphs">(GHz)</tspan></text>
<rect x="729.7" y="35.1" width="89.1" height="49.2" rx="3" ry="3" fill="#fff" fill-opacity="0.8" stroke="#eaeaea" stroke-width="1"/>
<path d="M734.9 47.3H769.5" stroke="#05b2aa" stroke-width="2.5" fill="none"/>
<path d="M752.3 61.8V77.4" stroke="#000" stroke-width="1.9" fill="none"/>
<circle cx="752.3" cy="69.4" r="3.35" fill="#000"/>
<text x="781.3" y="52.8" font-family='"Liberation Serif", serif' font-size="16" text-anchor="start" textLength="14.5" lengthAdjust="spacingAndGlyphs" >fit</text>
<text x="781.3" y="74.6" font-family='"Liberation Serif", serif' font-size="16" text-anchor="start" textLength="30.6" lengthAdjust="spacingAndGlyphs" >data</text>
<text x="56.1" y="33.1" font-family='"Liberation Serif", serif' font-size="15.5" text-anchor="end" textLength="16.3" lengthAdjust="spacingAndGlyphs" >20</text>
<text x="56.1" y="86.36" font-family='"Liberation Serif", serif' font-size="15.5" text-anchor="end" textLength="16.3" lengthAdjust="spacingAndGlyphs" >10</text>
<text x="56.1" y="139.63" font-family='"Liberation Serif", serif' font-size="15.5" text-anchor="end" textLength="8.15" lengthAdjust="spacingAndGlyphs" >0</text>
<text font-family='"Liberation Serif", serif' font-size="15.5"><tspan x="27.9" y="192.9" textLength="11.4" lengthAdjust="spacingAndGlyphs">−</tspan><tspan x="39.8" y="192.9" textLength="16.3" lengthAdjust="spacingAndGlyphs">10</tspan></text>
<text font-family='"Liberation Serif", serif' font-size="15.5"><tspan x="27.9" y="246.16" textLength="11.4" lengthAdjust="spacingAndGlyphs">−</tspan><tspan x="39.8" y="246.16" textLength="16.3" lengthAdjust="spacingAndGlyphs">20</tspan></text>
<g transform="translate(17.9 200.9) rotate(-90)">
<text font-family='"Liberation Serif", serif' font-size="16"><tspan x="0" y="0" textLength="7.6" lengthAdjust="spacingAndGlyphs" font-style="italic">g</tspan><tspan x="8.2" y="0" textLength="15.6" lengthAdjust="spacingAndGlyphs">/2</tspan><tspan x="24.2" y="0" textLength="9" lengthAdjust="spacingAndGlyphs" font-style="italic">π</tspan> <tspan x="39.5" y="0" textLength="44.9" lengthAdjust="spacingAndGlyphs">(MHz)</tspan></text>
</g>
<text x="4.4" y="16.5" font-family='"Liberation Sans", sans-serif' font-size="16.6" text-anchor="start" textLength="20.6" lengthAdjust="spacingAndGlyphs" >(a)</text>
<text x="456.1" y="16.5" font-family='"Liberation Sans", sans-serif' font-size="16.6" text-anchor="start" textLength="20.6" lengthAdjust="spacingAndGlyphs" >(b)</text>
</svg>
</body></html>
